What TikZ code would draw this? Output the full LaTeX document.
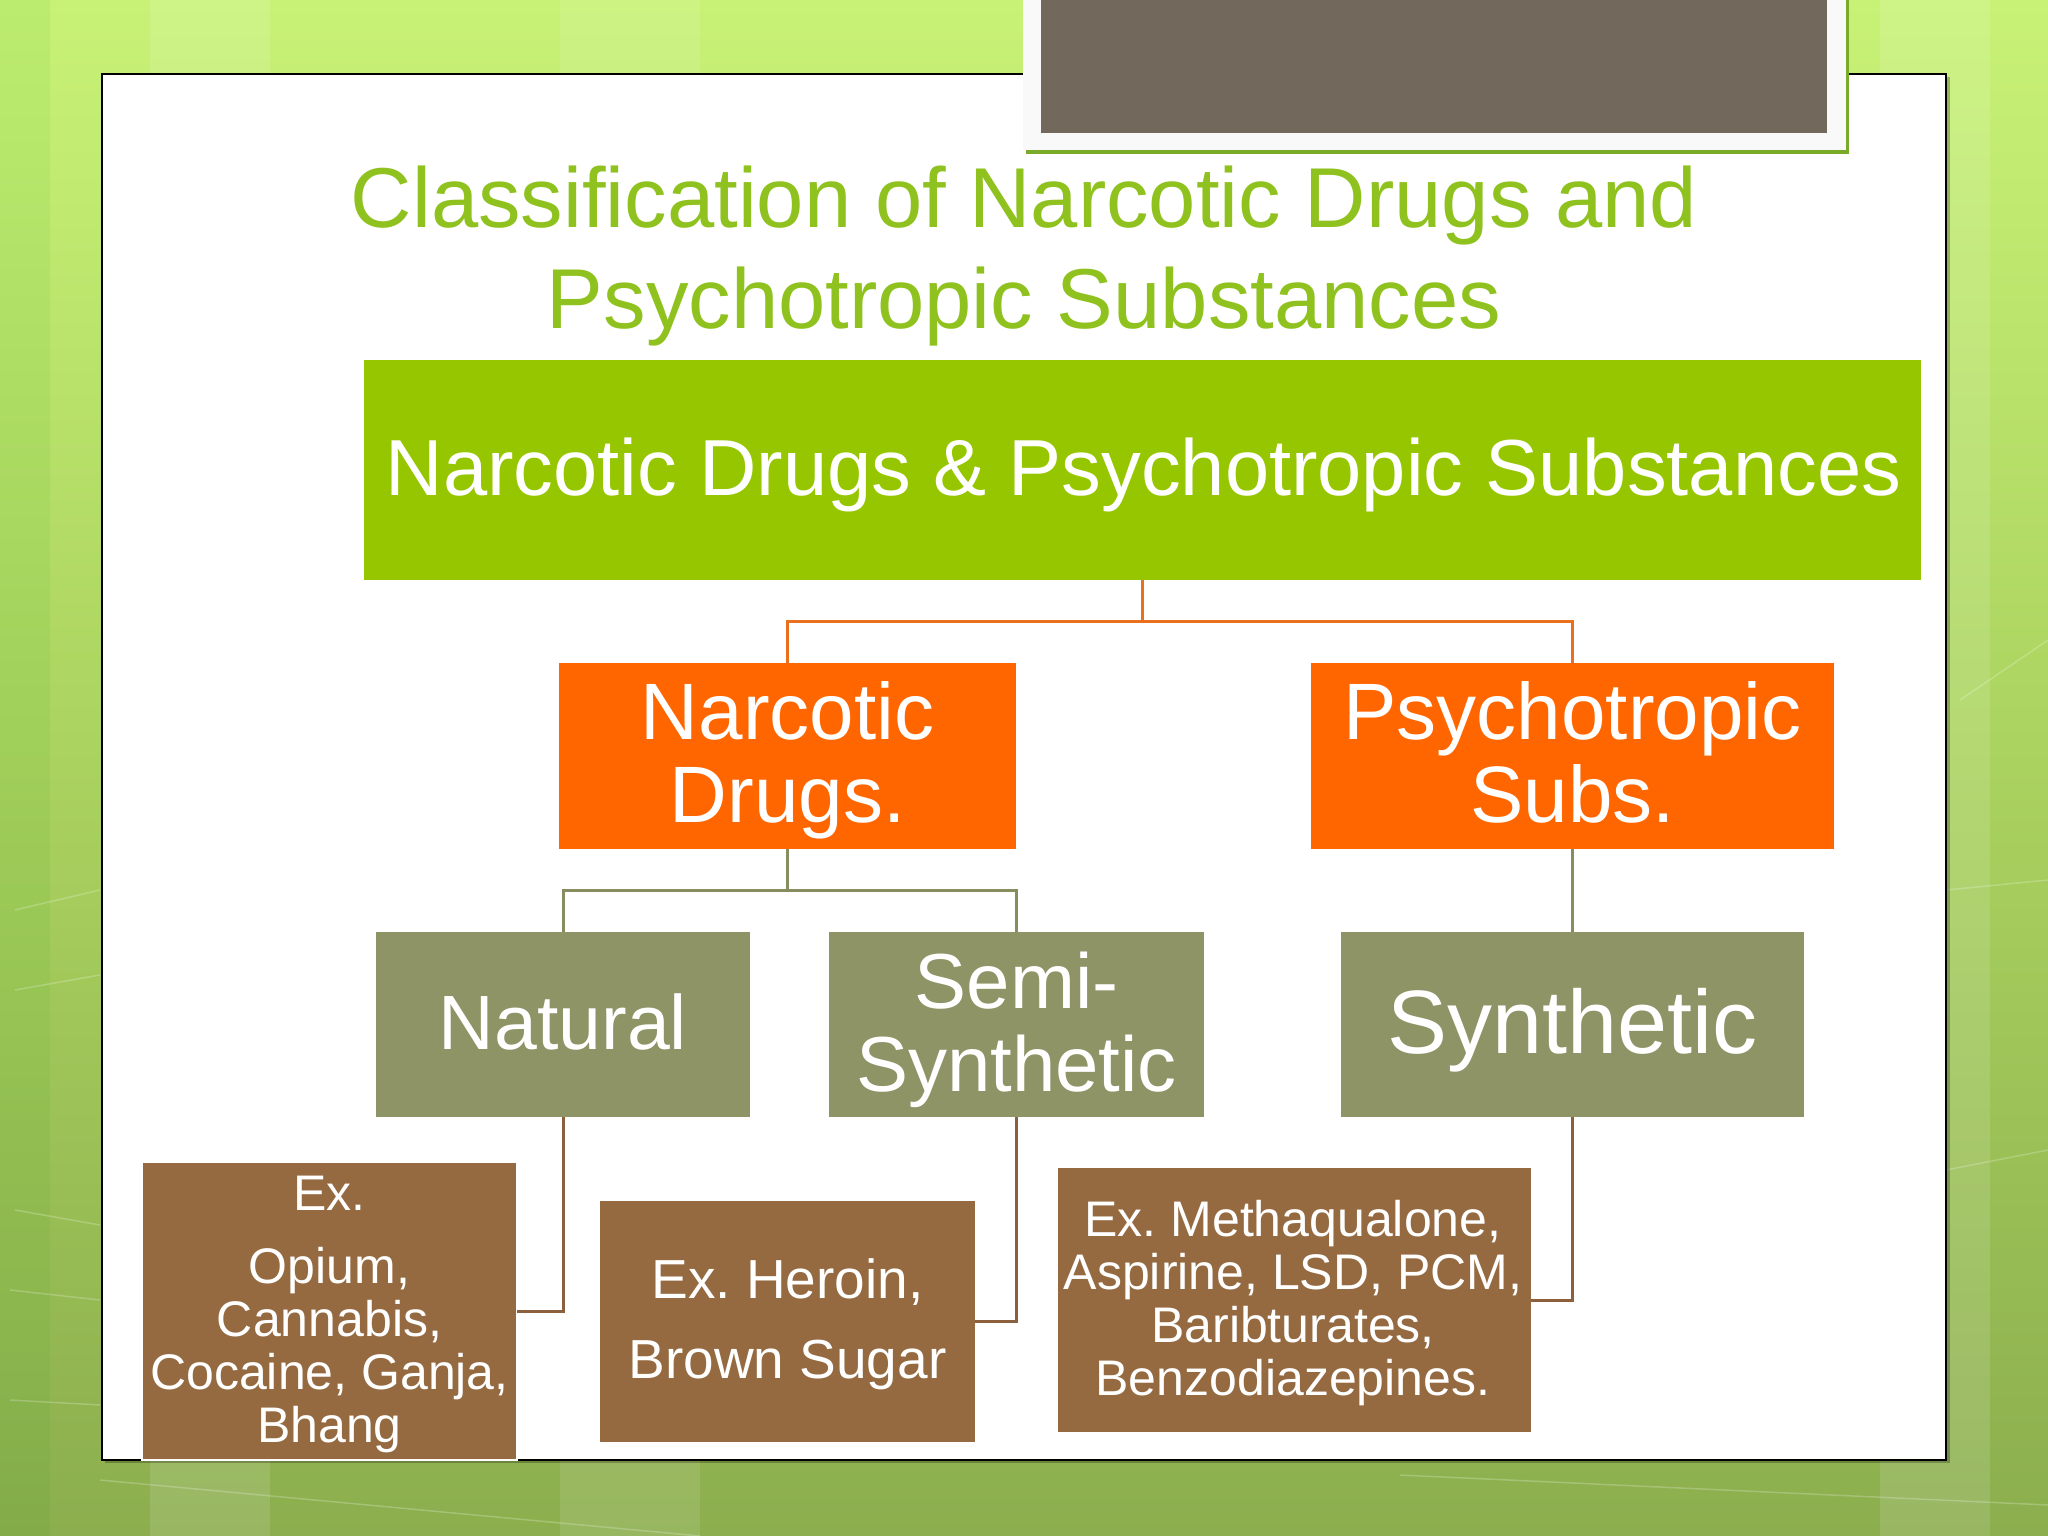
\documentclass[tikz,border=0pt]{standalone}
\usepackage{fontspec}
\setmainfont{Liberation Sans}
\frenchspacing
\usetikzlibrary{calc}
\definecolor{bgtop}{RGB}{200,242,118}
\definecolor{bgmid}{RGB}{170,210,95}
\definecolor{bgbot}{RGB}{140,174,78}
\definecolor{titlegreen}{RGB}{143,194,30}
\definecolor{limebox}{RGB}{150,198,0}
\definecolor{orangebox}{RGB}{255,102,0}
\definecolor{olivebox}{RGB}{143,148,102}
\definecolor{brownbox}{RGB}{149,106,65}
\definecolor{graybox}{RGB}{115,104,92}
\definecolor{orangeline}{RGB}{232,112,30}
\definecolor{oliveline}{RGB}{136,141,96}
\definecolor{brownline}{RGB}{140,96,60}
\definecolor{framegreen}{RGB}{122,170,42}
\tikzset{
  boxbase/.style={rectangle, inner sep=0pt, outer sep=0pt},
  topbox/.style={boxbase, fill=limebox},
  orbox/.style={boxbase, fill=orangebox},
  olbox/.style={boxbase, fill=olivebox},
  brbox/.style={boxbase, fill=brownbox},
  boxtext/.style={text=white, align=center, inner sep=0pt, anchor=base},
  orconn/.style={draw=orangeline, line width=3pt},
  olconn/.style={draw=oliveline, line width=3pt},
  brconn/.style={draw=brownline, line width=3pt},
  bgline/.style={draw=white, opacity=0.22, line width=1.5pt},
}
\begin{document}
\begin{tikzpicture}[x=1pt,y=-1pt]
\useasboundingbox (0,0) rectangle (2048,1536);
% background
\shade[top color=bgtop, bottom color=bgbot, middle color=bgmid] (0,0) rectangle (2048,1536);
\fill[white, opacity=0.12] (150,0) rectangle (270,1536);
\fill[white, opacity=0.10] (560,0) rectangle (700,1536);
\fill[white, opacity=0.12] (1880,0) rectangle (1990,1536);
\fill[black!40!green, opacity=0.06] (0,0) rectangle (50,1536);
\draw[bgline] (15,910) -- (100,890);
\draw[bgline] (15,990) -- (100,975);
\draw[bgline] (15,1210) -- (100,1225);
\draw[bgline] (10,1290) -- (100,1300);
\draw[bgline] (10,1400) -- (100,1405);
\draw[bgline] (100,1480) -- (700,1536);
\draw[bgline] (1946,890) -- (2048,880);
\draw[bgline] (1946,1170) -- (2048,1150);
\draw[bgline] (1400,1475) -- (2048,1505);
\draw[bgline] (1960,700) -- (2048,640);
% panel
\fill[black, opacity=0.25] (105,77) rectangle (1950,1463);
\draw[fill=white, draw=black, line width=2pt] (102,74) rectangle (1946,1460);
% top gray frame
\fill[framegreen] (1026,0) rectangle (1849,154);
\fill[white!95!gray] (1023,0) rectangle (1846,150);
\fill[graybox] (1041,0) rectangle (1827,133);
% title
\node[anchor=base, text=titlegreen, font=\fontsize{85}{100}\selectfont, inner sep=0pt] (t1) at (1024,227) {Classification of Narcotic Drugs and};
\node[anchor=base, text=titlegreen, font=\fontsize{85}{100}\selectfont, inner sep=0pt] (t2) at (1024,328) {Psychotropic Substances};
% level 1
\node[topbox, minimum width=1557pt, minimum height=220pt] (top) at (1142.5,470) {};
\node[boxtext, font=\fontsize{79.5}{90}\selectfont] (toptxt) at (1143.5,495) {Narcotic Drugs \& Psychotropic Substances};
% level 2 (multi-line text: base anchor = last line baseline)
\node[orbox, minimum width=457pt, minimum height=186pt] (nd) at (787.5,755.5) {};
\node[boxtext, font=\fontsize{80}{83}\selectfont] (ndtxt) at (787.5,822) {Narcotic\\Drugs.};
\node[orbox, minimum width=523pt, minimum height=186pt] (ps) at (1572.5,755.5) {};
\node[boxtext, font=\fontsize{80}{83}\selectfont] (pstxt) at (1572.5,822) {Psychotropic\\Subs.};
% level 3
\node[olbox, minimum width=374pt, minimum height=185pt] (nat) at (563,1024.5) {};
\node[boxtext, font=\fontsize{77}{83}\selectfont] (nattxt) at (563,1049) {Natural};
\node[olbox, minimum width=375pt, minimum height=185pt] (semi) at (1016.5,1024.5) {};
\node[boxtext, font=\fontsize{78}{83}\selectfont] (semitxt) at (1016.5,1091) {Semi-\\Synthetic};
\node[olbox, minimum width=463pt, minimum height=185pt] (syn) at (1572.5,1024.5) {};
\node[boxtext, font=\fontsize{90}{100}\selectfont] (syntxt) at (1572.5,1053) {Synthetic};
% level 4
\node[brbox, draw=white, line width=2pt, minimum width=375pt, minimum height=298pt] (exa) at (329.5,1311) {};
\node[boxtext, font=\fontsize{50}{53}\selectfont] (exatxt) at (329.5,1442) {Ex.\\[20pt]Opium,\\Cannabis,\\Cocaine, Ganja,\\Bhang};
\node[brbox, minimum width=375pt, minimum height=241pt] (exb) at (787.5,1321.5) {};
\node[boxtext, font=\fontsize{55}{80}\selectfont] (exbtxt) at (787.5,1378) {Ex. Heroin,\\Brown Sugar};
\node[brbox, minimum width=473pt, minimum height=264pt] (exc) at (1294.5,1300) {};
\node[boxtext, font=\fontsize{50}{53}\selectfont] (exctxt) at (1293,1395) {Ex. Methaqualone,\\Aspirine, LSD, PCM,\\Baribturates,\\Benzodiazepines.};
% connectors
\coordinate (j1) at (1142.5,621);
\coordinate (j2) at (787.5,890);
\draw[orconn] (top.south) -- (j1) -| (nd.north);
\draw[orconn] (j1) -| (ps.north);
\draw[olconn] (nd.south) -- (j2) -| (nat.north);
\draw[olconn] (j2) -| (semi.north);
\draw[olconn] (ps.south) -- (syn.north);
\draw[brconn] (nat.south) |- (exa.east);
\draw[brconn] (semi.south) |- (exb.east);
\draw[brconn] (syn.south) |- (exc.east);
\end{tikzpicture}
\end{document}
